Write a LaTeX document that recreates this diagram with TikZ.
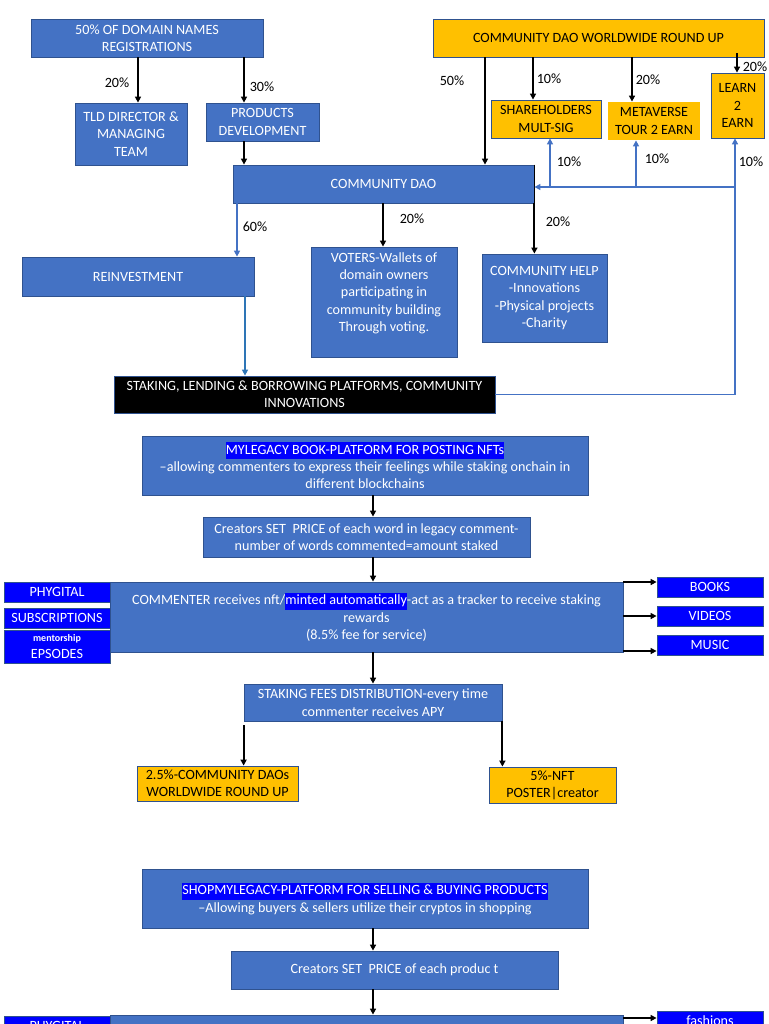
\documentclass[tikz,border=0pt]{standalone}
\usepackage{fontspec}
\setmainfont{Carlito}
\usetikzlibrary{arrows.meta}
\definecolor{mblue}{HTML}{4472C4}
\definecolor{bdr}{HTML}{2F528F}
\definecolor{myel}{HTML}{FFC000}
\definecolor{vblue}{HTML}{0000FF}
\definecolor{lblue}{HTML}{4472C4}
\definecolor{sblue}{HTML}{2E75B6}
\newcommand{\hlt}[1]{{\setlength{\fboxsep}{0pt}\colorbox{vblue}{\strut #1}}}
\newcommand{\bx}[7]{\node[#2, minimum width={(#5-#3)*0.75pt}, minimum height={(#6-#4)*0.75pt}] (#1) at ({(#3+#5)/2},{(#4+#6)/2}) {#7};}
\tikzset{
  base/.style={draw=bdr, line width=0.6pt, inner sep=0pt, align=center, font=\fontsize{10.6}{13}\selectfont},
  bbox/.style={base, fill=mblue, text=white},
  ybox/.style={base, fill=myel, text=black},
  vbox/.style={base, fill=vblue, text=white},
  kbox/.style={base, fill=black, text=white},
  arr/.style={draw=black, line width=1.6pt, -{Triangle[length=4.5pt,width=4.5pt]}},
  barr/.style={draw=lblue, line width=1.3pt, -{Triangle[length=4.5pt,width=4.5pt]}},
  lab/.style={font=\fontsize{10.6}{13}\selectfont, text=black, inner sep=0pt},
}
\begin{document}
\begin{tikzpicture}[x=0.75pt,y=-0.75pt]
\useasboundingbox (0,0) rectangle (768,1024);
\clip (0,0) rectangle (768,1024);
% ---------- top section ----------
\bx{dom}{bbox}{31}{19}{263}{57}{50\% OF DOMAIN NAMES\\REGISTRATIONS}
\bx{tld}{bbox}{75}{103}{187}{165}{TLD DIRECTOR \&\\MANAGING\\TEAM}
\bx{prod}{bbox}{206}{103}{319}{141}{PRODUCTS\\DEVELOPMENT}
\bx{cdao}{bbox}{233}{165}{534}{203}{COMMUNITY DAO}
\bx{round}{ybox}{433}{19}{764}{57}{COMMUNITY DAO WORLDWIDE ROUND UP}
\bx{share}{ybox}{491}{100}{601}{138}{SHAREHOLDERS\\MULT-SIG}
\bx{meta}{ybox,draw=none}{608}{102}{700}{140}{METAVERSE\\TOUR 2 EARN}
\bx{learn}{ybox}{711}{73}{764}{138}{LEARN\\2\\EARN}
\bx{reinv}{bbox}{22}{257}{254}{296}{REINVESTMENT}
\bx{voters}{bbox}{311}{247}{457}{357}{}
\node[lab, text=white, align=center] (votertext) at (384,293) {VOTERS-Wallets of\\domain owners\\participating in\\community building\\Through voting.};
\bx{help}{bbox}{482}{254}{607}{342}{COMMUNITY HELP\\-Innovations\\-Physical projects\\-Charity}
\bx{stk}{kbox}{114}{376}{495}{413}{STAKING, LENDING \& BORROWING PLATFORMS, COMMUNITY\\INNOVATIONS}

% arrows top
\draw[arr] (dom.south -| 138,0) -- (tld.north -| 138,0);
\draw[arr] (dom.south -| 244,0) -- (prod.north -| 244,0);
\draw[arr] (prod.south -| 244,0) -- (cdao.north -| 244,0);
\draw[arr] (round.south -| 485,0) -- (cdao.north -| 485,0);
\draw[arr] (round.south -| 533,0) -- (share.north -| 533,0);
\draw[arr] (round.south -| 632,0) -- (meta.north -| 632,0);
\draw[arr] ([yshift=3pt]round.south -| 737,0) -- (learn.north -| 737,0);
\draw[barr] (cdao.south -| 237,0) -- (reinv.north -| 237,0);
\draw[arr] (cdao.south -| 383,0) -- (voters.north -| 383,0);
\draw[arr] (cdao.south east) -- (help.north -| cdao.south east);
\draw[draw=black, line width=1.2pt] (cdao.north east) -- (cdao.south east);
\draw[barr, draw=sblue] (reinv.south -| 245,0) -- (stk.north -| 245,0);
\coordinate (j1) at (550,187);
\coordinate (j2) at (636,187);
\coordinate (j3) at (735,187);
\draw[barr] (stk.east) -| (j3) -- (cdao.east |- j3);
\draw[barr] (j1) -- (share.south -| j1);
\draw[barr] (j2) -- (meta.south -| j2);
\draw[barr] (j3) -- (learn.south -| j3);

% labels
\node[lab] (l1) at (117,83) {20\%};
\node[lab] (l2) at (262,87) {30\%};
\node[lab] (l3) at (452,81) {50\%};
\node[lab] (l4) at (549,79) {10\%};
\node[lab] (l5) at (648,80) {20\%};
\node[lab] (l6) at (755,67) {20\%};
\node[lab] (l7) at (569,162) {10\%};
\node[lab] (l8) at (657,159) {10\%};
\node[lab] (l9) at (751,162) {10\%};
\node[lab] (l10) at (255,227) {60\%};
\node[lab] (l11) at (412,219) {20\%};
\node[lab] (l12) at (558,222) {20\%};

% ---------- middle section ----------
\bx{myl}{bbox}{142}{436}{588}{495}{\hlt{MYLEGACY BOOK-PLATFORM FOR POSTING NFTs}\\–allowing commenters to express their feelings while staking onchain in\\different blockchains}
\bx{cre}{bbox}{203}{517}{530}{557}{Creators SET\ \ PRICE of each word in legacy comment-\\number of words commented=amount staked}
\bx{com}{bbox}{110}{582}{623}{652}{COMMENTER receives nft/\hlt{minted automatically}-act as a tracker to receive staking\\rewards\\(8.5\% fee for service)}
\bx{phy}{vbox}{4}{582}{110}{602}{PHYGITAL}
\bx{sub}{vbox}{4}{608}{110}{628}{SUBSCRIPTIONS}
\bx{men}{vbox}{4}{630}{110}{663}{{\fontsize{7.5}{8}\selectfont\bfseries mentorship}\\EPSODES}
\bx{books}{vbox}{657}{577}{763}{597}{BOOKS}
\bx{videos}{vbox}{657}{606}{763}{626}{VIDEOS}
\bx{music}{vbox}{657}{635}{763}{655}{MUSIC}
\bx{fees}{bbox}{244}{684}{502}{721}{STAKING FEES DISTRIBUTION-every time\\commenter receives APY}
\bx{daos}{ybox}{137}{766}{298}{801}{2.5\%-COMMUNITY DAOs\\WORLDWIDE ROUND UP}
\bx{nft}{ybox}{489}{767}{616}{803}{5\%-NFT\\POSTER|creator}

\draw[arr] (myl.south -| 373,0) -- (cre.north -| 373,0);
\draw[arr] (cre.south -| 373,0) -- (com.north -| 373,0);
\draw[arr] (com.south -| 373,0) -- (fees.north -| 373,0);
\draw[arr] (com.east |- 0,582) -- (books.west |- 0,582);
\draw[arr] (com.east |- 0,616) -- (videos.west |- 0,616);
\draw[arr] (com.east |- 0,651) -- (music.west |- 0,651);
\draw[arr] ([yshift=-3pt]fees.south west) -- (daos.north -| fees.south west);
\draw[arr] (fees.south east) -- (nft.north -| fees.south east);

% ---------- bottom section ----------
\bx{shop}{bbox}{142}{869}{588}{928}{\hlt{SHOPMYLEGACY-PLATFORM FOR SELLING \& BUYING PRODUCTS}\\–Allowing buyers \& sellers utilize their cryptos in shopping}
\bx{cre2}{bbox}{231}{951}{558}{989}{Creators SET\ \ PRICE of each produc t}
\bx{com2}{bbox}{110}{1015}{623}{1060}{}
\bx{phy2}{vbox}{4}{1016}{110}{1036}{PHYGITAL}
\bx{fash}{vbox}{657}{1011}{763}{1031}{fashions}
\draw[arr] (shop.south -| 373,0) -- (cre2.north -| 373,0);
\draw[arr] (cre2.south -| 373,0) -- (com2.north -| 373,0);
\draw[arr] (com2.east |- 0,1018) -- (fash.west |- 0,1018);
\end{tikzpicture}
\end{document}
